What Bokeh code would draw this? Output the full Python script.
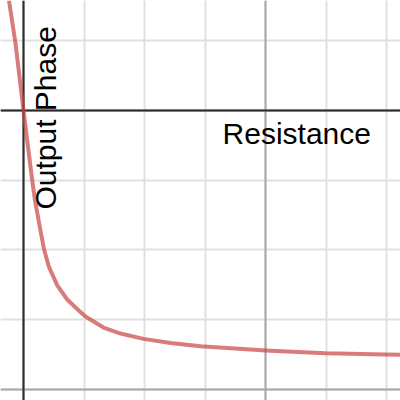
import numpy as np
from bokeh.plotting import figure
from bokeh.models import Range1d, Grid, SingleIntervalTicker, Span
from bokeh.core.properties import value
from bokeh.embed import file_html
from bokeh.resources import INLINE

# Curve (x: Resistance, y: Output Phase)
resistance = [-0.120, -0.066, 0.0, 0.070, 0.095, 0.128, 0.168, 0.209, 0.279,
              0.361, 0.457, 0.512, 0.661, 0.802, 0.992, 1.215, 1.463, 2.0,
              2.496, 2.992, 3.116]
output_phase = [0.789, 0.480, 0.0, -0.487, -0.645, -0.803, -0.989, -1.118, -1.254,
                -1.355, -1.434, -1.477, -1.556, -1.599, -1.637, -1.667, -1.690, -1.720,
                -1.740, -1.749, -1.751]
x_label = "Resistance"
y_label = "Output Phase"

W = H = 400
p = figure(width=W, height=H, output_backend="svg", toolbar_location=None,
           x_axis_location=None, y_axis_location=None,
           x_range=Range1d(-0.1901, 3.1157), y_range=Range1d(-2.0789, 0.7885),
           min_border=0, outline_line_color=None,
           background_fill_color="white", border_fill_color="white")

minor_x = Grid(dimension=0, ticker=SingleIntervalTicker(interval=0.5, num_minor_ticks=0),
               grid_line_color="#e0e0e0", grid_line_width=2)
minor_y = Grid(dimension=1, ticker=SingleIntervalTicker(interval=0.5, num_minor_ticks=0),
               grid_line_color="#e0e0e0", grid_line_width=2)
major_x = Grid(dimension=0, ticker=SingleIntervalTicker(interval=2, num_minor_ticks=0),
               grid_line_color="#a8a8a8", grid_line_width=2)
major_y = Grid(dimension=1, ticker=SingleIntervalTicker(interval=2, num_minor_ticks=0),
               grid_line_color="#a8a8a8", grid_line_width=2)
for g in (minor_x, minor_y, major_x, major_y):
    p.add_layout(g)

p.add_layout(Span(location=0, dimension="height", line_color="#2e2e2e", line_width=2, level="underlay"))
p.add_layout(Span(location=0, dimension="width", line_color="#2e2e2e", line_width=2, level="underlay"))

p.line(resistance, output_phase, line_color="#c74440", line_alpha=0.7, line_width=4,
       line_join="round")

p.text(x=[1.645], y=[-0.167], text=[x_label], text_font=value("Liberation Sans"),
       text_font_size="30px", text_color="black", text_align="left",
       text_baseline="alphabetic")
p.text(x=[0.182], y=[-0.710], text=[y_label], text_font=value("Liberation Sans"),
       text_font_size="30px", text_color="black", text_align="left",
       text_baseline="alphabetic", angle=np.pi / 2)

open("out.html", "w").write(file_html(p, INLINE))
